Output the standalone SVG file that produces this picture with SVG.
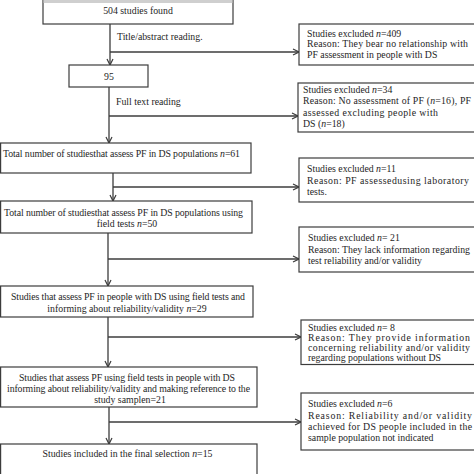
<svg xmlns="http://www.w3.org/2000/svg" width="474" height="474" viewBox="0 0 474 474">
<defs>
<style>
.box{fill:#fff;stroke:#3c3c3c;stroke-width:1.2}
.t{font-family:"Liberation Serif","Times New Roman",serif;font-size:9.8px;fill:#1e1e1e}
.c{text-anchor:middle}
.i{font-style:italic}
.ln{stroke:#3c3c3c;stroke-width:1.3;fill:none}
</style>
<marker id="ar" viewBox="0 0 8 8" refX="7" refY="4" markerWidth="8" markerHeight="8" markerUnits="userSpaceOnUse" orient="auto">
<path d="M1,1 L7,4 L1,7" fill="none" stroke="#3c3c3c" stroke-width="1.2"/>
</marker>
</defs>
<rect width="474" height="474" fill="#fff"/>

<g id="connectors">
<line class="ln" x1="110" y1="24" x2="110" y2="65" marker-end="url(#ar)"/>
<line class="ln" x1="110" y1="52" x2="299" y2="52" marker-end="url(#ar)"/>
<line class="ln" x1="109" y1="87" x2="109" y2="143" marker-end="url(#ar)"/>
<line class="ln" x1="109" y1="116" x2="298" y2="116" marker-end="url(#ar)"/>
<line class="ln" x1="113" y1="173" x2="113" y2="201" marker-end="url(#ar)"/>
<line class="ln" x1="113" y1="187" x2="299" y2="187" marker-end="url(#ar)"/>
<line class="ln" x1="108" y1="233" x2="108" y2="286" marker-end="url(#ar)"/>
<line class="ln" x1="108" y1="259" x2="299" y2="259" marker-end="url(#ar)"/>
<line class="ln" x1="108" y1="317" x2="108" y2="367" marker-end="url(#ar)"/>
<line class="ln" x1="108" y1="337" x2="301" y2="337" marker-end="url(#ar)"/>
<line class="ln" x1="109" y1="407" x2="109" y2="444" marker-end="url(#ar)"/>
<line class="ln" x1="109" y1="422" x2="301" y2="422" marker-end="url(#ar)"/>
</g>

<g id="found">
<rect class="box" x="43" y="-2" width="190" height="26"/>
<rect x="43.6" y="0" width="188.8" height="3" fill="#cfcfcf"/>
<text class="t c" x="138" y="13.5">504 studies found</text>
</g>
<text class="t" x="117" y="39.5">Title/abstract reading.</text>

<g id="excl409">
<rect class="box" x="299" y="24" width="180" height="41"/>
<text class="t" x="307" y="36.5">Studies excluded <tspan class="i">n</tspan>=409</text>
<text class="t" x="307" y="47" textLength="161" lengthAdjust="spacing">Reason: They bear no relationship with</text>
<text class="t" x="307" y="57.5">PF assessment in people with DS</text>
</g>

<g id="n95">
<rect class="box" x="69" y="65" width="79" height="22"/>
<text class="t c" x="109" y="79.5">95</text>
</g>
<text class="t" x="116" y="104.5">Full text reading</text>

<g id="excl34">
<rect class="box" x="298" y="83" width="181" height="49"/>
<text class="t" x="303" y="92.5">Studies excluded <tspan class="i">n</tspan>=34</text>
<text class="t" x="303" y="104" textLength="168" lengthAdjust="spacing">Reason: No assessment of PF (<tspan class="i">n</tspan>=16), PF</text>
<text class="t" x="303" y="115.5" textLength="135" lengthAdjust="spacing">assessed excluding people with</text>
<text class="t" x="303" y="127">DS (<tspan class="i">n</tspan>=18)</text>
</g>

<g id="n61">
<rect class="box" x="0.6" y="143" width="250.4" height="30"/>
<text class="t c" x="121.5" y="156.5" textLength="237" lengthAdjust="spacing">Total number of studiesthat assess PF in DS populations <tspan class="i">n</tspan>=61</text>
</g>

<g id="excl11">
<rect class="box" x="299" y="158" width="180" height="44"/>
<text class="t" x="307" y="171.5">Studies excluded <tspan class="i">n</tspan>=11</text>
<text class="t" x="307" y="183.5" textLength="162" lengthAdjust="spacing">Reason: PF assessedusing laboratory</text>
<text class="t" x="307" y="194.5">tests.</text>
</g>

<g id="n50">
<rect class="box" x="0.6" y="201" width="251.4" height="32"/>
<text class="t c" x="123.5" y="216" textLength="239" lengthAdjust="spacing">Total number of studiesthat assess PF in DS populations using</text>
<text class="t c" x="127" y="227">field tests <tspan class="i">n</tspan>=50</text>
</g>

<g id="excl21">
<rect class="box" x="299" y="227" width="180" height="45"/>
<text class="t" x="308" y="240.5">Studies excluded <tspan class="i">n</tspan>= 21</text>
<text class="t" x="308" y="252.5" textLength="162" lengthAdjust="spacing">Reason: They lack information regarding</text>
<text class="t" x="308" y="263.5">test reliability and/or validity</text>
</g>

<g id="n29">
<rect class="box" x="0.6" y="286" width="252.4" height="31"/>
<text class="t c" x="128" y="299.5" textLength="234" lengthAdjust="spacing">Studies that assess PF in people with DS using field tests and</text>
<text class="t c" x="127" y="311.5">informing about reliability/validity <tspan class="i">n</tspan>=29</text>
</g>

<g id="excl8">
<rect class="box" x="301" y="320" width="178" height="44.5"/>
<text class="t" x="308" y="330.5">Studies excluded <tspan class="i">n</tspan>= 8</text>
<text class="t" x="308" y="340.8" textLength="162" lengthAdjust="spacing">Reason: They provide information</text>
<text class="t" x="308" y="351.1" textLength="162" lengthAdjust="spacing">concerning reliability and/or validity</text>
<text class="t" x="308" y="361.4">regarding populations without DS</text>
</g>

<g id="n21">
<rect class="box" x="0.6" y="367" width="256.4" height="40"/>
<text class="t c" x="127" y="380.5" textLength="216" lengthAdjust="spacing">Studies that assess PF using field tests in people with DS</text>
<text class="t c" x="128.5" y="391.5" textLength="243" lengthAdjust="spacing">informing about reliability/validity and making reference to the</text>
<text class="t c" x="130" y="402.5">study samplen=21</text>
</g>

<g id="excl6">
<rect class="box" x="301" y="393" width="178" height="57"/>
<text class="t" x="308" y="406.5">Studies excluded <tspan class="i">n</tspan>=6</text>
<text class="t" x="308" y="418.5" textLength="164" lengthAdjust="spacing">Reason: Reliability and/or validity</text>
<text class="t" x="308" y="429.5" textLength="164" lengthAdjust="spacing">achieved for DS people included in the</text>
<text class="t" x="308" y="440.5">sample population not indicated</text>
</g>

<g id="n15">
<rect class="box" x="0.6" y="444" width="256.4" height="40"/>
<text class="t c" x="127.5" y="456.5">Studies included in the final selection <tspan class="i">n</tspan>=15</text>
</g>
</svg>
